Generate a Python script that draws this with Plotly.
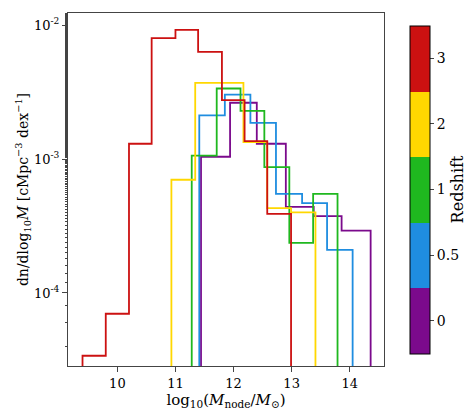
import plotly.graph_objects as go

red_edges = [9.40, 9.80, 10.20, 10.59, 11.00, 11.39, 11.80, 12.19, 12.58, 12.99]
red_vals = [3.4e-5, 7.0e-5, 1.30e-3, 8.0e-3, 9.2e-3, 6.3e-3, 2.75e-3, 1.36e-3, 3.9e-4]
yel_edges = [10.93, 11.34, 11.76, 12.17, 12.58, 12.99, 13.41]
yel_vals = [7.0e-4, 3.7e-3, 3.7e-3, 1.34e-3, 4.3e-4, 4.0e-4]
grn_edges = [11.28, 11.71, 12.12, 12.53, 12.96, 13.37, 13.79]
grn_vals = [1.06e-3, 3.36e-3, 2.29e-3, 8.7e-4, 2.37e-4, 5.5e-4]
blu_edges = [11.41, 11.85, 12.29, 12.73, 13.18, 13.61, 14.05]
blu_vals = [2.12e-3, 3.03e-3, 1.86e-3, 5.5e-4, 4.68e-4, 2.1e-4]
pur_edges = [11.44, 11.94, 12.40, 12.90, 13.38, 13.86, 14.36]
pur_vals = [1.04e-3, 2.63e-3, 1.30e-3, 4.4e-4, 3.75e-4, 2.92e-4]

cb_labels = ["0", "0.5", "1", "2", "3"]
y_tickvals = [1e-4, 1e-3, 1e-2]
y_ticktext = ["10<sup>-4</sup>", "10<sup>-3</sup>", "10<sup>-2</sup>"]
colors = ["#7b0a8c", "#1f8de0", "#1fb81f", "#ffd700", "#cc1111"]

series = [(pur_edges, pur_vals, colors[0]), (blu_edges, blu_vals, colors[1]),
          (grn_edges, grn_vals, colors[2]), (yel_edges, yel_vals, colors[3]),
          (red_edges, red_vals, colors[4])]

fig = go.Figure()
FLOOR = 1e-7
for edges, vals, c in series:
    xs = [edges[0]] + list(edges)
    ys = [FLOOR] + list(vals) + [FLOOR]
    fig.add_trace(go.Scatter(x=xs, y=ys, mode="lines", line_shape="hv",
                             line=dict(color=c, width=1.8), showlegend=False,
                             hoverinfo="skip"))

n = len(colors)
cs = []
for i, c in enumerate(colors):
    cs.append([i / n, c]); cs.append([(i + 1) / n, c])
fig.add_trace(go.Scatter(x=[None], y=[None], mode="markers", showlegend=False,
    marker=dict(color=[0], cmin=0, cmax=n, colorscale=cs, showscale=True,
        colorbar=dict(x=1.05, xanchor="left", y=0.5, len=0.985, thickness=20,
            outlinewidth=1, outlinecolor="black",
            tickvals=[i + 0.5 for i in range(n)], ticktext=cb_labels,
            ticks="outside", ticklen=4, tickfont=dict(size=14),
            title=dict(text="Redshift", side="right", font=dict(size=16))))))

fig.update_layout(
    width=474, height=410, margin=dict(l=60, r=81, t=5, b=52),
    plot_bgcolor="white", paper_bgcolor="white",
    font=dict(family="DejaVu Serif", color="black", size=13),
    xaxis=dict(range=[9.15, 14.59], tickvals=[10, 11, 12, 13, 14],
               ticks="outside", showgrid=False, zeroline=False,
               showline=True, linecolor="#444", mirror=True,
               title=dict(text="log<sub>10</sub>(<i>M</i><sub>node</sub>/<i>M</i><sub>⊙</sub>)",
                          font=dict(size=15), standoff=4)),
    yaxis=dict(type="log", range=[-4.545, -1.91], tickvals=y_tickvals, ticktext=y_ticktext,
               ticks="outside", showgrid=False, automargin=False,
               showline=True, linecolor="#444", mirror=True,
               minor=dict(ticks="outside", ticklen=2, showgrid=False),
               title=dict(text="dn/dlog<sub>10</sub><i>M</i> [cMpc<sup>−3</sup> dex<sup>−1</sup>]",
                          font=dict(size=14), standoff=2)),
)
fig.write_html("out.html")
